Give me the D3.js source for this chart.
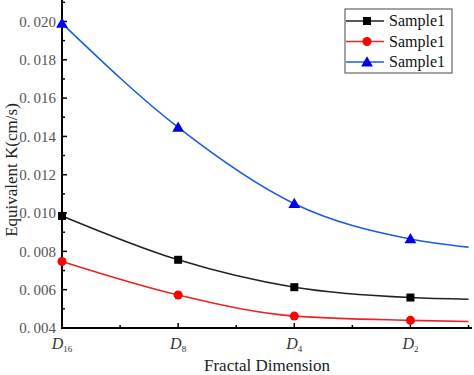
<!DOCTYPE html>
<html><head><meta charset="utf-8">
<script src="https://cdn.jsdelivr.net/npm/d3@7"></script>
<style>body{margin:0;background:#fff}svg{display:block}</style>
</head><body><svg id="c" width="474" height="375" font-family="Liberation Serif, DejaVu Serif, serif"></svg>
<script>
const categories = ["16","8","4","2"];
const xIndex = [0,1,2,3];
const tailIndex = 3.5;
const black = [0.00985,0.00756,0.00613,0.00559];
const red = [0.00747,0.00572,0.00462,0.00440];
const blue = [0.01990,0.01447,0.01049,0.00865];
const blackTail = 0.00550;
const redTail = 0.00434;
const blueTail = 0.00822;
const yTicks = [0.004,0.006,0.008,0.010,0.012,0.014,0.016,0.018,0.020];
const legendLabels = ["Sample1","Sample1","Sample1"];
const FONT = "Liberation Serif";

const svg = d3.select("#c");
const x = d3.scaleLinear().domain([0,3.53]).range([62,472]);
const y = d3.scaleLinear().domain([0.004,0.02112]).range([328,0]);

const yAxis = d3.axisLeft(y).tickValues(yTicks).tickSize(0).tickPadding(6)
  .tickFormat(d=>d3.format(".3f")(d).replace(".",".\u2009"));
const ga = svg.append("g").attr("transform","translate(62,0)").call(yAxis);
ga.select(".domain").remove();
ga.attr("font-family",FONT);
ga.selectAll("text").attr("font-size",15).attr("fill","#555").attr("font-family",FONT);
const yMinor = d3.range(0.004,0.0211,0.001);
svg.append("g").selectAll("line").data(yMinor).join("line")
  .attr("x1",62).attr("x2",(d,i)=> i%2===0?67:65).attr("y1",d=>y(d)).attr("y2",d=>y(d))
  .attr("stroke","#000").attr("stroke-width",1.5);
svg.append("line").attr("x1",62).attr("x2",62).attr("y1",0).attr("y2",329).attr("stroke","#000").attr("stroke-width",2);
svg.append("line").attr("x1",61).attr("x2",472).attr("y1",328).attr("y2",328).attr("stroke","#000").attr("stroke-width",2);
const xMinor = d3.range(0,3.51,0.5);
svg.append("g").selectAll("line").data(xMinor).join("line")
  .attr("x1",d=>x(d)).attr("x2",d=>x(d)).attr("y1",328).attr("y2",(d)=> Number.isInteger(d)?323:325)
  .attr("stroke","#000").attr("stroke-width",1.5);
const xl = svg.append("g").selectAll("text").data(categories).join("text")
  .attr("x",(d,i)=>x(xIndex[i])).attr("y",349).attr("text-anchor","middle").attr("font-family",FONT)
  .attr("font-size",16).attr("fill","#333").attr("font-style","italic");
xl.append("tspan").text("D");
xl.append("tspan").text(d=>d).attr("font-size",9).attr("dy",3).attr("font-style","normal");

svg.append("text").attr("x",267).attr("y",371).attr("text-anchor","middle").attr("font-family",FONT).attr("font-size",17).attr("fill","#222").text("Fractal Dimension");
svg.append("text").attr("transform","translate(17,170) rotate(-90)").attr("text-anchor","middle").attr("font-family",FONT).attr("font-size",17).attr("fill","#222").text("Equivalent K(cm/s)");

const series = [
  {vals:black,tail:blackTail,line:"#222",mark:"#000",shape:"square"},
  {vals:red,tail:redTail,line:"#ee2222",mark:"#ff0000",shape:"circle"},
  {vals:blue,tail:blueTail,line:"#1a5fd8",mark:"#0000ee",shape:"triangle"}
];
const line = d3.line().x(d=>x(d[0])).y(d=>y(d[1])).curve(d3.curveMonotoneX);
function marker(g,shape,color,cx,cy){
  if(shape==="square") g.append("rect").attr("x",cx-4).attr("y",cy-4).attr("width",8).attr("height",8).attr("fill",color);
  else if(shape==="circle") g.append("circle").attr("cx",cx).attr("cy",cy).attr("r",4.5).attr("fill",color);
  else g.append("path").attr("d",d3.symbol(d3.symbolTriangle,60)()).attr("transform",`translate(${cx},${cy+1})`).attr("fill",color);
}
series.forEach(s=>{
  const pts = s.vals.map((v,i)=>[xIndex[i],v]).concat([[tailIndex,s.tail]]);
  svg.append("path").attr("d",line(pts)).attr("fill","none").attr("stroke",s.line).attr("stroke-width",1.6);
  const g = svg.append("g");
  s.vals.forEach((v,i)=>marker(g,s.shape,s.mark,x(xIndex[i]),y(v)));
});

const lg = svg.append("g");
lg.append("rect").attr("x",345).attr("y",9).attr("width",107).attr("height",64).attr("fill","#fff").attr("stroke","#666").attr("stroke-width",1.2);
series.forEach((s,i)=>{
  const yy = 21+i*20.5;
  lg.append("line").attr("x1",346).attr("x2",384).attr("y1",yy).attr("y2",yy).attr("stroke",s.line).attr("stroke-width",1.6);
  marker(lg,s.shape,s.mark,367,yy);
  lg.append("text").attr("x",389).attr("y",yy+5).attr("font-family",FONT).attr("font-size",16).attr("fill","#111").text(legendLabels[i]);
});
</script></body></html>
